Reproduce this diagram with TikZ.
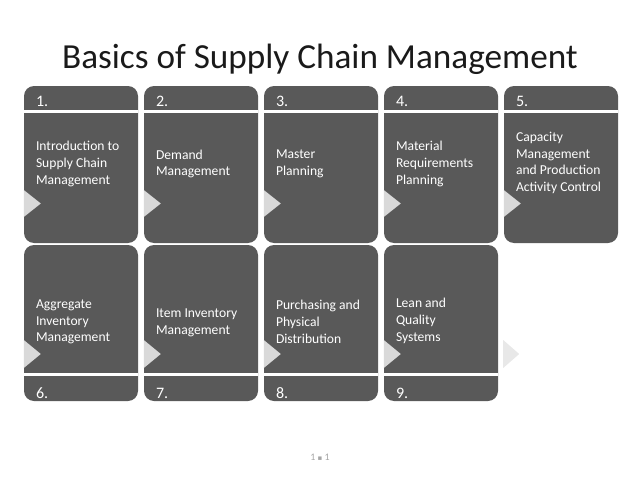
\documentclass[tikz,border=0pt]{standalone}
\usepackage{fontspec}
\setmainfont{Carlito}
\newfontfamily\symfont{DejaVu Sans}
\definecolor{boxgray}{HTML}{595959}
\definecolor{tri}{HTML}{D9D9D9}
\definecolor{trilight}{HTML}{E8E8E8}
\definecolor{pagegray}{HTML}{A6A6A6}
\definecolor{titlecol}{HTML}{1A1A1A}
\begin{document}
\begin{tikzpicture}[x=1pt,y=-1pt,
  card/.style={fill=boxgray, rounded corners=10pt, minimum width=114pt, inner sep=0pt, draw=none},
  toprow/.style={card, minimum height=157pt},
  botrow/.style={card, minimum height=156pt},
  body/.style={anchor=west, align=left, text=white, font=\fontsize{13.6}{16.7}\selectfont, inner sep=0pt},
  num/.style={anchor=base west, text=white, font=\fontsize{16}{18}\selectfont, inner sep=0pt},
  sepline/.style={draw=white, line width=3pt},
  arr/.style={fill=tri},
  arrlight/.style={fill=trilight}]
\useasboundingbox (0,0) rectangle (638,479);

\node[font=\fontsize{35.2}{40}\selectfont, text=titlecol] (title) at (320,59) {Basics of Supply Chain Management};

% top row
\foreach \i/\x in {1/81,2/201,3/321,4/441,5/561}{
  \node[toprow] (b\i) at (\x,164.5) {};
  \draw[sepline] ([yshift=-25.5pt]b\i.north west) -- ([yshift=-25.5pt]b\i.north east);
  \fill[arr] ([yshift=-25.5pt]b\i.west) -- ++(17,13.5) -- ++(-17,13.5) -- cycle;
  \node[num] (n\i) at ([xshift=12pt,yshift=-21pt]b\i.north west) {\i.};
}
% bottom row
\foreach \i/\x in {6/81,7/201,8/321,9/441}{
  \node[botrow] (b\i) at (\x,323) {};
  \draw[sepline] ([yshift=27pt]b\i.south west) -- ([yshift=27pt]b\i.south east);
  \fill[arr] ([yshift=-17pt]b\i.west) -- ++(17,14) -- ++(-17,14) -- cycle;
  \node[num] (n\i) at ([xshift=12pt,yshift=3pt]b\i.south west) {\i.};
}
\coordinate (extra) at ([xshift=5pt,yshift=-17pt]b9.east);
\fill[arrlight] (extra) -- ++(16,14) -- ++(-16,14) -- cycle;

% body texts
\node[body] (t1) at ([xshift=12pt]b1.west |- 0,164) {Introduction to\\Supply Chain\\Management};
\node[body] (t2) at ([xshift=12pt]b2.west |- 0,164) {Demand\\Management};
\node[body] (t3) at ([xshift=12pt]b3.west |- 0,164) {Master\\Planning};
\node[body] (t4) at ([xshift=12pt]b4.west |- 0,164) {Material\\Requirements\\Planning};
\node[body] (t5) at ([xshift=12pt]b5.west |- 0,163) {Capacity\\Management\\and Production\\Activity Control};
\node[body] (t6) at ([xshift=12pt]b6.west |- 0,322) {Aggregate\\Inventory\\Management};
\node[body] (t7) at ([xshift=12pt]b7.west |- 0,323) {Item Inventory\\Management};
\node[body] (t8) at ([xshift=12pt]b8.west |- 0,322) {Purchasing and\\Physical\\Distribution};
\node[body] (t9) at ([xshift=12pt]b9.west |- 0,321) {Lean and\\Quality\\Systems};

\node[text=pagegray, font=\fontsize{10}{12}\selectfont] (page) at (320,457) {1 {\symfont\fontsize{7}{8}\selectfont ▪} 1};
\end{tikzpicture}
\end{document}
